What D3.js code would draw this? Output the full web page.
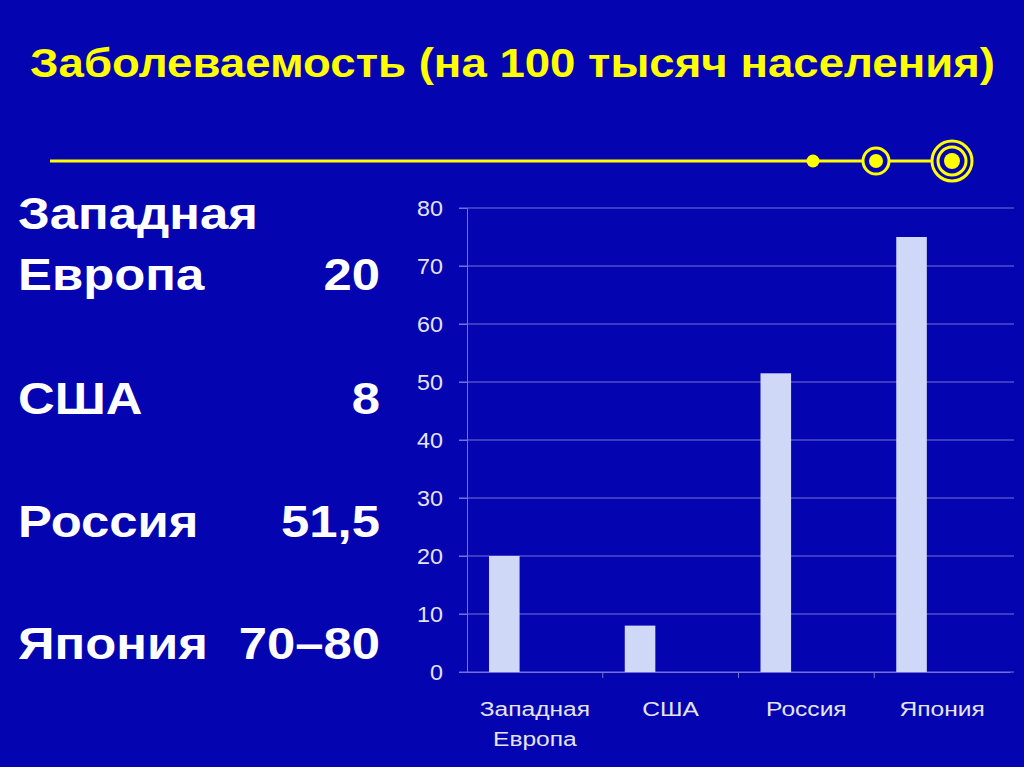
<!DOCTYPE html>
<html><head><meta charset="utf-8">
<script src="https://cdn.jsdelivr.net/npm/d3@7"></script>
<style>html,body{margin:0;padding:0;background:#0404b0;overflow:hidden}</style>
</head><body>
<svg id="c" width="1024" height="767"></svg>
<script>
const categories = ["Западная Европа", "США", "Россия", "Япония"];
const values = [20, 8, 51.5, 75];
const seriesSlots = ["Ряд 1", "Ряд 2", "Ряд 3"];
const yTicks = [0, 10, 20, 30, 40, 50, 60, 70, 80];
const leftLabels = [["Западная", "Европа"], ["США"], ["Россия"], ["Япония"]];
const leftValues = ["20", "8", "51,5", "70–80"];
const title = "Заболеваемость (на 100 тысяч населения)";

const FONT = "'Liberation Sans',Arial,sans-serif";
const svg = d3.select("#c");
svg.append("rect").attr("width",1024).attr("height",767).attr("fill","#0404b0");

function stext(parent, x, y, str, sx, anchor){
  return parent.append("text").attr("transform",`translate(${x},${y}) scale(${sx},1)`)
    .attr("text-anchor",anchor||"start").text(str);
}

// title
svg.append("text").attr("x",30).attr("y",77)
  .attr("fill","#ffff00").attr("font-family",FONT)
  .attr("font-weight","bold").attr("font-size",41)
  .attr("textLength",965).attr("lengthAdjust","spacingAndGlyphs").text(title);

// decorative line
const BG = "#0404b0";
const deco = svg.append("g").attr("stroke","#ffff00").attr("fill","#ffff00");
deco.append("line").attr("x1",50).attr("x2",932).attr("y1",161).attr("y2",161).attr("stroke-width",3);
deco.append("circle").attr("cx",813).attr("cy",161).attr("r",6.5).attr("stroke","none");
deco.append("circle").attr("cx",876).attr("cy",161).attr("r",13).attr("fill",BG).attr("stroke-width",3);
deco.append("circle").attr("cx",876).attr("cy",161).attr("r",7).attr("stroke","none");
deco.append("circle").attr("cx",952).attr("cy",161).attr("r",20).attr("fill",BG).attr("stroke-width",3);
deco.append("circle").attr("cx",952).attr("cy",161).attr("r",14).attr("fill",BG).attr("stroke-width",3);
deco.append("circle").attr("cx",952).attr("cy",161).attr("r",8).attr("stroke","none");

// left text
const lt = svg.append("g").attr("fill","#ffffff").attr("font-family",FONT)
  .attr("font-weight","bold").attr("font-size",45);
const baselines = [[229, 290], [414], [537], [659]];
leftLabels.forEach((lines,i)=>{
  lines.forEach((l,j)=>stext(lt, 18, baselines[i][j], l, 1.13));
  const bl = baselines[i][baselines[i].length-1];
  stext(lt, 380, bl, leftValues[i], 1.13, "end");
});

// chart
const x0 = 467, x1 = 1010, yTop = 208, yBot = 672;
const x = d3.scaleBand().domain(categories).range([x0, x1]).paddingInner(0).paddingOuter(0);
const xs = d3.scaleBand().domain(seriesSlots).range([0, x.bandwidth()]).paddingOuter(0.72).paddingInner(0);
const y = d3.scaleLinear().domain([0, 80]).range([yBot, yTop]);

const gridColor = "#7272d6";
const g = svg.append("g");
g.selectAll("line.grid").data(yTicks).join("line").attr("class","grid")
  .attr("x1",x0-8).attr("x2",x1+4).attr("y1",d=>y(d)).attr("y2",d=>y(d))
  .attr("stroke",gridColor).attr("stroke-width",1);

// y axis
const tsx = 1.06;
const yAxis = g.append("g").attr("transform",`translate(${x0},0)`)
  .call(d3.axisLeft(y).tickValues(yTicks).tickSize(8).tickPadding(16));
yAxis.select(".domain").attr("stroke",gridColor);
yAxis.selectAll(".tick line").attr("stroke",gridColor);
yAxis.selectAll(".tick text").attr("fill","#e4e4f4").attr("font-size",22)
  .attr("font-family",FONT).attr("x",-24/tsx).attr("transform",`scale(${tsx},1)`);

// bars
g.selectAll("rect.bar").data(values).join("rect").attr("class","bar")
  .attr("x",(d,i)=>x(categories[i]) + xs(seriesSlots[0]))
  .attr("width",xs.bandwidth())
  .attr("y",d=>y(d)).attr("height",d=>yBot - y(d))
  .attr("fill","#d0d8f8");

// x axis
const xAxis = g.append("g").attr("transform",`translate(0,${yBot})`)
  .call(d3.axisBottom(x).tickSize(0).tickFormat(""));
xAxis.select(".domain").attr("stroke",gridColor);
g.selectAll("line.xt").data(categories.slice(1)).join("line").attr("class","xt")
  .attr("x1",d=>x(d)).attr("x2",d=>x(d)).attr("y1",yBot).attr("y2",yBot+6).attr("stroke",gridColor);
const xlG = g.append("g").attr("fill","#e4e4f4").attr("font-size",21).attr("font-family",FONT);
categories.forEach(c=>{
  c.split(" ").forEach((p,i)=>stext(xlG, x(c)+x.bandwidth()/2, 716 + i*30, p, 1.17, "middle"));
});
</script>
</body></html>
